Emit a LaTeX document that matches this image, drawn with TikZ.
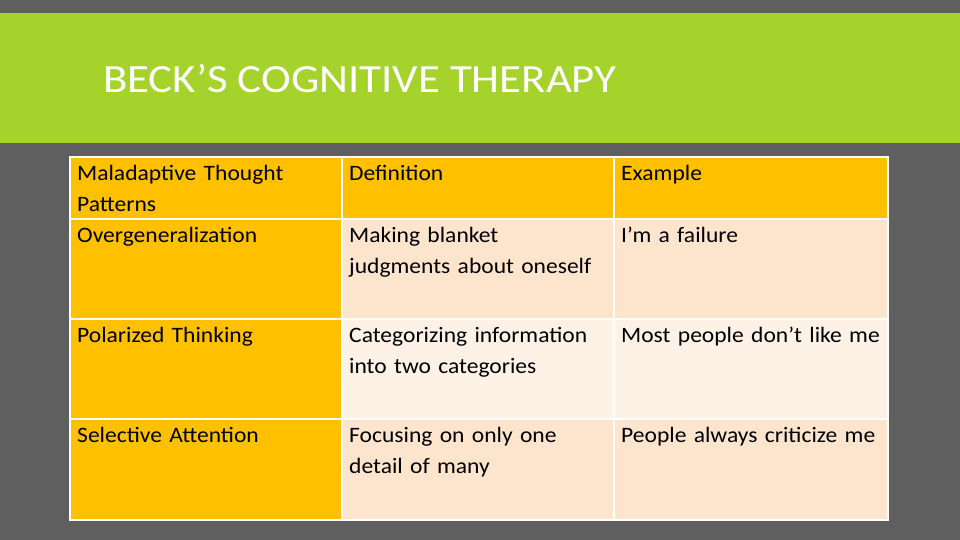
\documentclass[tikz,border=0pt]{standalone}
\usepackage{fontspec}
\setmainfont{Carlito}
\newfontfamily\bodyf[FakeStretch=1.07]{Carlito}
\newfontfamily\titlef[FakeStretch=1.12]{Carlito}
\definecolor{bg}{HTML}{5F5F5F}
\definecolor{grn}{HTML}{A5D22B}
\definecolor{org}{HTML}{FFC000}
\definecolor{lt1}{HTML}{FDE5CD}
\definecolor{lt2}{HTML}{FEF2E7}
\begin{document}
\begin{tikzpicture}[x=1pt,y=-1pt,
  cell/.style={draw=white,line width=2pt},
  txt/.style={anchor=north west,inner sep=0pt,align=left,text width=268pt,font=\bodyf\fontsize{22}{31}\selectfont}]
\useasboundingbox (0,0) rectangle (960,540);
\fill[bg] (0,0) rectangle (960,540);
\fill[grn] (0,13) rectangle (960,143);
\node[anchor=base west,inner sep=0pt,text=white,font=\titlef\fontsize{40}{44}\selectfont] (title) at (103,93) {BECK’S COGNITIVE THERAPY};
\fill[org] (70,157) rectangle (888,219);
\fill[org] (70,219) rectangle (342,520);
\fill[lt1] (342,219) rectangle (888,319);
\fill[lt2] (342,319) rectangle (888,419);
\fill[lt1] (342,419) rectangle (888,520);
\foreach \y in {219,319,419} \draw[cell] (70,\y) -- (888,\y);
\foreach \x in {342,614} \draw[cell] (\x,157) -- (\x,520);
\draw[cell] (70,157) rectangle (888,520);
\node[txt] (h1) at (77,165) {Maladaptive Thought\\Patterns};
\node[txt] (h2) at (349,165) {Definition};
\node[txt] (h3) at (621,165) {Example};
\node[txt] (a1) at (77,227) {Overgeneralization};
\node[txt] (a2) at (349,227) {Making blanket\\judgments about oneself};
\node[txt] (a3) at (621,227) {I’m a failure};
\node[txt] (b1) at (77,327) {Polarized Thinking};
\node[txt] (b2) at (349,327) {Categorizing information\\into two categories};
\node[txt] (b3) at (621,327) {Most people don’t like me};
\node[txt] (c1) at (77,427) {Selective Attention};
\node[txt] (c2) at (349,427) {Focusing on only one\\detail of many};
\node[txt] (c3) at (621,427) {People always criticize me};
\end{tikzpicture}
\end{document}
